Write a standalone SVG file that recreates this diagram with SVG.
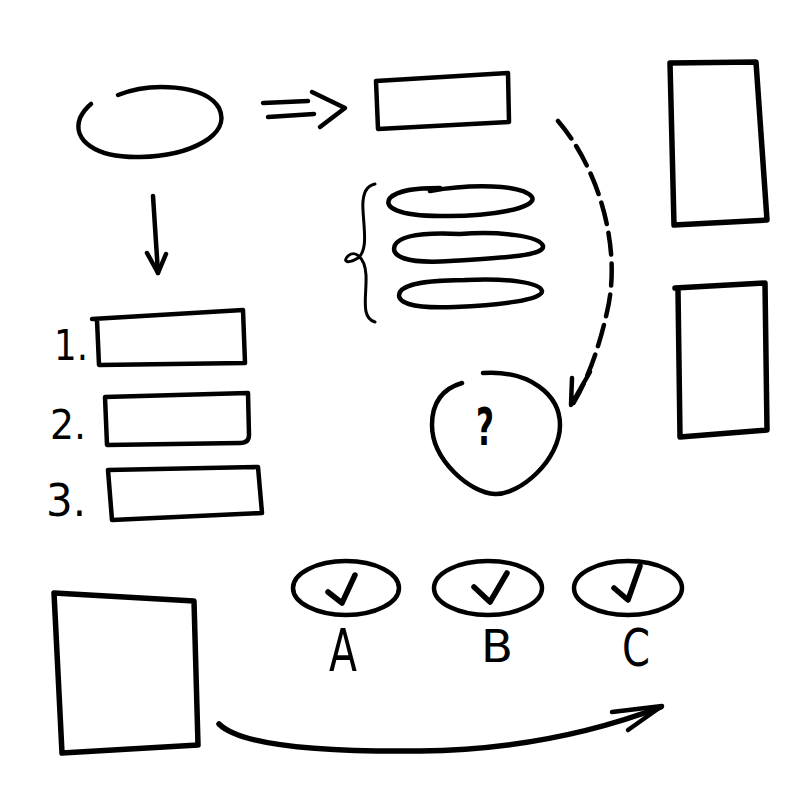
<svg xmlns="http://www.w3.org/2000/svg" width="800" height="800" viewBox="0 0 800 800">
<style>
.s{fill:none;stroke:#000;stroke-width:4.5;stroke-linecap:round;stroke-linejoin:round}
.t{stroke-width:5.5}
.n{stroke-width:3}
.h{font-family:"DejaVu Sans","Liberation Sans",sans-serif;fill:#000}
</style>
<rect width="800" height="800" fill="#fff"/>
<g id="connectors">
<g id="double-arrow" class="s">
<path d="M263,103 L308,101"/>
<path d="M268,117 L314,114"/>
<path d="M312,92 L345,108 L320,127"/>
</g>
<g id="down-arrow" class="s">
<path d="M153,196 L158,273"/>
<path d="M147,253 L158,273 L166,254"/>
</g>
<g id="dashed-arc" class="s">
<path d="M558,121 C600,170 622,250 607,312 C598,352 587,380 573,404" stroke-dasharray="22 9"/>
<path d="M572,378 L571,405 L590,372"/>
</g>
<g id="bottom-arrow" class="s">
<path d="M219,724 C240,745 320,752 420,751 C520,750 600,730 661,707" class="s t"/>
<path d="M612,712 L662,706 L628,730"/>
</g>
</g>
<g id="ellipse-start" class="s">
<path d="M118,95 C150,82 205,84 219,108 C232,135 190,156 140,157 C95,158 72,140 80,118 C83,112 86,108 91,104"/>
</g>
<g id="rect-top" class="s">
<path d="M376,81 L508,73 L509,122 L378,129 Z"/>
</g>
<g id="brace" class="s n">
<path d="M375,184 C365,186 362,195 363,210 C364,230 368,250 358,258 C348,264 342,262 348,256 C354,250 365,256 366,275 C367,295 360,318 375,322"/>
</g>
<g id="ellipse-list-1" class="s">
<path d="M430,191 C470,184 522,184 532,197 C538,208 490,217 440,216 C398,216 383,207 390,198 C398,190 415,188 440,188"/>
</g>
<g id="ellipse-list-2" class="s">
<path d="M460,234 C500,231 540,236 543,246 C545,256 500,258 450,261 C405,264 390,256 395,245 C400,236 420,232 460,234"/>
</g>
<g id="ellipse-list-3" class="s">
<path d="M465,280 C505,278 540,282 542,291 C543,300 500,305 455,307 C410,309 395,302 400,292 C405,284 425,280 470,280"/>
</g>
<g id="circle-question">
<path class="s" d="M483,373 C530,370 560,395 560,425 C560,460 520,495 495,494 C470,493 432,460 432,425 C432,400 445,388 462,383"/>
<text class="h" x="485" y="445" font-size="52" font-weight="bold" text-anchor="middle" textLength="18" lengthAdjust="spacingAndGlyphs">?</text>
</g>
<g id="rect-right-top" class="s t">
<path d="M670,63 L756,62 L767,220 L674,225 Z"/>
</g>
<g id="rect-right-bottom" class="s t">
<path d="M675,288 L765,283 L767,430 L680,437 L678,290"/>
</g>
<g id="list-1">
<text class="h" x="54" y="360" font-size="42" textLength="34" lengthAdjust="spacingAndGlyphs">1.</text>
<path class="s" d="M92,319 L243,310 L245,363 L99,365 L97,320"/>
</g>
<g id="list-2">
<text class="h" x="50" y="439" font-size="40" textLength="36" lengthAdjust="spacingAndGlyphs">2.</text>
<path class="s" d="M105,397 L248,393 L249,435 Q249,443 240,443 L107,445 Z"/>
</g>
<g id="list-3">
<text class="h" x="46" y="516" font-size="44" textLength="40" lengthAdjust="spacingAndGlyphs">3.</text>
<path class="s" d="M108,470 L258,467 L262,513 L112,520 Z"/>
</g>
<g id="check-a">
<ellipse class="s" cx="346" cy="588" rx="53" ry="27"/>
<path class="s t" d="M328,592 L342,603 L355,575"/>
<text class="h" x="343" y="671" font-size="58" text-anchor="middle" textLength="28" lengthAdjust="spacingAndGlyphs">A</text>
</g>
<g id="check-b">
<ellipse class="s" cx="488" cy="588" rx="54" ry="27"/>
<path class="s t" d="M474,587 L490,602 L507,573"/>
<text class="h" x="497" y="662" font-size="44" text-anchor="middle" textLength="32" lengthAdjust="spacingAndGlyphs">B</text>
</g>
<g id="check-c">
<ellipse class="s" cx="628" cy="588" rx="54" ry="27"/>
<path class="s t" d="M614,588 L628,600 L640,566"/>
<text class="h" x="636" y="666" font-size="52" text-anchor="middle" textLength="28" lengthAdjust="spacingAndGlyphs">C</text>
</g>
<g id="rect-bottom-left" class="s t">
<path d="M54,593 L194,601 L198,745 L62,753 Z"/>
</g>
</svg>
